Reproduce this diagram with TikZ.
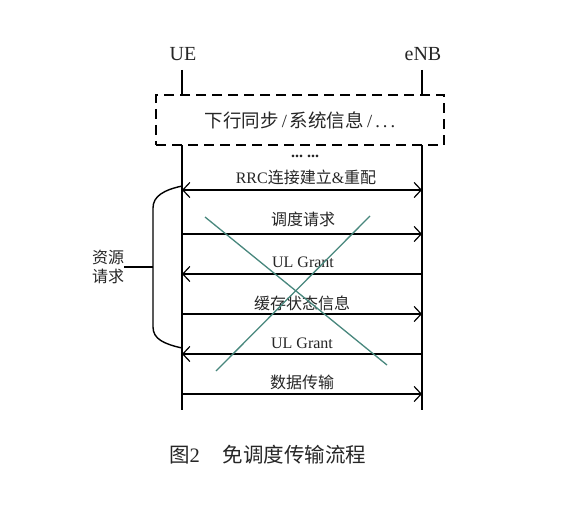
\documentclass[tikz,border=0pt]{standalone}
\usepackage{fontspec}
\setmainfont{Liberation Serif}
\newfontfamily\cjk{Noto Sans CJK SC}
\usetikzlibrary{arrows.meta}
\definecolor{crossc}{RGB}{72,135,125}
\begin{document}
\begin{tikzpicture}[x=1pt,y=-1pt,
  life/.style={line width=1.3pt},
  msg/.style={line width=1.2pt,-{Straight Barb[length=7pt,width=15pt,line width=1.2pt]}},
  dmsg/.style={line width=1.2pt,{Straight Barb[length=7pt,width=15pt,line width=1.2pt]}-{Straight Barb[length=7pt,width=15pt,line width=1.2pt]}},
  lbl/.style={font=\fontsize{16}{18}\selectfont, inner sep=0pt, text=black!85},
  head/.style={font=\fontsize{20}{22}\selectfont, inner sep=0pt, text=black!85},
  dashbox/.style={draw, line width=1.4pt, dash pattern=on 10pt off 6pt, minimum width=288pt, minimum height=50pt, inner sep=0pt, font=\fontsize{18.5}{20}\selectfont, text=black!85},
  crossl/.style={draw=crossc, line width=1.3pt},
  bracel/.style={line width=1.4pt}]
\useasboundingbox (0,0) rectangle (585,513);
\fill[white] (0,0) rectangle (585,513);

% heads
\node[head] (ue) at (183,54) {UE};
\node[head] (enb) at (423,54) {eNB};

% dashed box
\node[dashbox] (sys) at (300,120) {{\cjk 下行同步}\,/\,{\cjk 系统信息}\,/\,.\,.\,.};
\node[lbl, font=\fontsize{16}{18}\selectfont\bfseries] (dots) at (305,156) {...\hspace{4pt}...};

% lifeline coordinates
\coordinate (ut) at (182,70);
\coordinate (et) at (422,70);
\coordinate (ub) at (182,145);
\coordinate (eb) at (422,145);
\coordinate (ue0) at (182,410);
\coordinate (en0) at (422,410);
\draw[life] (ut) -- (ub |- sys.north);
\draw[life] (et) -- (eb |- sys.north);
\draw[life] (ub) -- (ue0);
\draw[life] (eb) -- (en0);

% message anchors
\coordinate (u1) at (182,190); \coordinate (e1) at (422,190);
\coordinate (u2) at (182,234); \coordinate (e2) at (422,234);
\coordinate (u3) at (182,274); \coordinate (e3) at (422,274);
\coordinate (u4) at (182,314); \coordinate (e4) at (422,314);
\coordinate (u5) at (182,354); \coordinate (e5) at (422,354);
\coordinate (u6) at (182,394); \coordinate (e6) at (422,394);

\draw[dmsg] (u1) -- (e1);
\draw[msg] (u2) -- (e2);
\draw[msg] (e3) -- (u3);
\draw[msg] (u4) -- (e4);
\draw[msg] (e5) -- (u5);
\draw[msg] (u6) -- (e6);

\node[lbl] (l1) at (306,177) {RRC{\cjk 连接建立}\&{\cjk 重配}};
\node[lbl] (l2) at (303,219) {\cjk 调度请求};
\node[lbl] (l3) at (303,262) {UL Grant};
\node[lbl] (l4) at (302,303) {\cjk 缓存状态信息};
\node[lbl] (l5) at (302,343) {UL Grant};
\node[lbl] (l6) at (302,382) {\cjk 数据传输};

% cross
\coordinate (c1a) at (205,217); \coordinate (c1b) at (387,365);
\coordinate (c2a) at (370,216); \coordinate (c2b) at (216,371);
\draw[crossl] (c1a) -- (c1b);
\draw[crossl] (c2a) -- (c2b);

% brace
\coordinate (bt) at (182,186);
\coordinate (bb) at (182,348);
\coordinate (bm) at (153,267);
\draw[bracel] (bt) .. controls (164,190) and (153,196) .. (153,208) -- (153,327) .. controls (153,339) and (164,344) .. (bb);
\coordinate (bl) at (124,267);
\draw[line width=2pt] (bm) -- (bl);
\node[lbl, align=center, font=\fontsize{16}{19}\selectfont\cjk] (res) at (108,267) {资源\\请求};

% caption
\node[inner sep=0pt, font=\fontsize{20.5}{22}\selectfont, text=black!85, anchor=west] (cap) at (169,455) {{\cjk 图}2\hspace{23pt}{\cjk 免调度传输流程}};
\end{tikzpicture}
\end{document}
